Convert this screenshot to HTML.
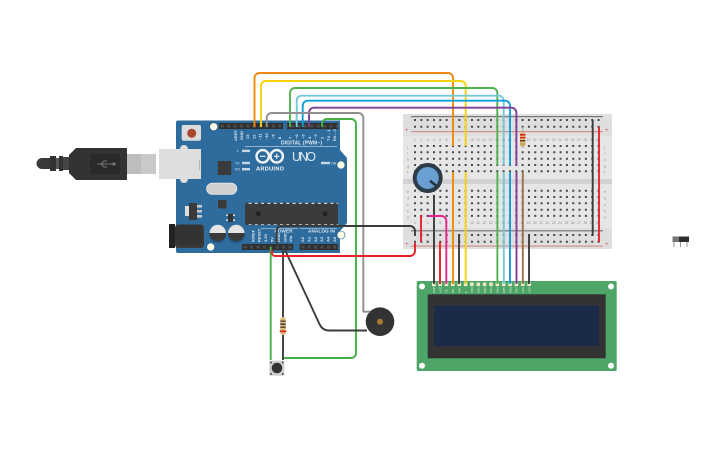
<!DOCTYPE html>
<html><head><meta charset="utf-8"><style>
html,body{margin:0;padding:0;background:#fff;width:725px;height:453px;overflow:hidden}
svg{display:block}
text{font-family:"Liberation Sans",sans-serif}
.w{fill:none;stroke-width:1.9;stroke-linecap:butt;stroke-linejoin:round}
.p{font-size:4px;font-weight:bold;fill:#dfe8ef}
.l{font-size:3.4px;fill:#8a8a8a}
.n{font-size:3.4px;fill:#8a8a8a;word-spacing:1.6px}
.s{font-size:3.4px;fill:#8a8a8a;word-spacing:3.49px}
.c{font-size:3px;fill:#e4efe6}
</style></head><body>
<svg width="725" height="453" viewBox="0 0 725 453" xmlns="http://www.w3.org/2000/svg">
<defs>
<pattern id="hd" x="219" y="123" width="6.4" height="6" patternUnits="userSpaceOnUse"><rect width="6.4" height="6" fill="#2f2f2f"/><rect x="1.6" y="1.6" width="3.2" height="3" fill="#4b4b4b"/></pattern>
<pattern id="hb" x="242" y="244" width="6.4" height="6" patternUnits="userSpaceOnUse"><rect width="6.4" height="6" fill="#2f2f2f"/><rect x="1.6" y="1.6" width="3.2" height="3" fill="#4b4b4b"/></pattern>
<pattern id="cp" x="247" y="202" width="6.3" height="24" patternUnits="userSpaceOnUse"><rect x="1.5" y="0.7" width="3" height="1.2" fill="#e8e8e8"/><rect x="1.5" y="22.3" width="3" height="1.2" fill="#e8e8e8"/></pattern>
</defs>

<!-- USB cable -->
<path d="M42 158h8v11h-8a5.500 5.500 0 0 1 0-11z" fill="#3a3a3a"/>
<rect x="50" y="156" width="6" height="15" fill="#333"/><rect x="56" y="158" width="3" height="11" fill="#555"/><rect x="59" y="156" width="4" height="15" fill="#333"/><rect x="63" y="157" width="6" height="13" fill="#444"/>
<path d="M69 155l7-7h51v32H76l-7-7z" fill="#333"/>
<rect x="90" y="154" width="30" height="20" fill="#2a2a2a"/>
<path d="M97 164h18M101 164l3-3h3M101 164l3 3h3" stroke="#777" stroke-width="1" fill="none"/><circle cx="114" cy="164" r="1.600" fill="#777"/>
<rect x="127" y="154" width="29" height="20" fill="#c9c9c9"/><rect x="127" y="154" width="14" height="20" fill="#bdbdbd"/>

<!-- Arduino -->
<path d="M178 120.500H340V150l7 8v65l-7 8v22H178a2 2 0 0 1-2-2V122.500a2 2 0 0 1 2-2z" fill="#2e6c9e"/>
<rect x="159" y="149" width="42" height="30" fill="#dedede"/>
<circle cx="184" cy="149" r="4" fill="#dedede"/><circle cx="184" cy="179" r="4" fill="#dedede"/>
<rect x="199" y="160" width="0.800" height="10" fill="#aaa"/>
<rect x="181.700" y="125" width="19.300" height="15.700" rx="2" fill="#dcdcdc"/><circle cx="191.700" cy="133.300" r="4.500" fill="#a8492f"/>
<g fill="#fdfde8" stroke="#27577f" stroke-width=".6"><circle cx="213.700" cy="126.700" r="4"/><circle cx="341" cy="165" r="4"/><circle cx="341" cy="235" r="4"/><circle cx="210.700" cy="247" r="4"/></g>
<rect x="219" y="123" width="64" height="6" fill="url(#hd)"/><rect x="287" y="123" width="51" height="6" fill="url(#hd)"/>
<rect x="242" y="244" width="51.200" height="6" fill="url(#hb)"/><rect x="299.600" y="244" width="38.400" height="6" fill="url(#hb)"/>
<g class="p">
<text transform="translate(237,141) rotate(-90)">AREF</text><text transform="translate(243,140) rotate(-90)">GND</text>
<text transform="translate(249,139) rotate(-90)">13</text><text transform="translate(255.500,139) rotate(-90)">12</text><text transform="translate(261.500,140) rotate(-90)">~11</text><text transform="translate(268,140) rotate(-90)">~10</text><text transform="translate(274.500,139) rotate(-90)">~9</text><text transform="translate(281,139) rotate(-90)">8</text>
<text transform="translate(291.500,139) rotate(-90)">7</text><text transform="translate(298,139) rotate(-90)">~6</text><text transform="translate(304.500,139) rotate(-90)">~5</text><text transform="translate(311,139) rotate(-90)">4</text><text transform="translate(317,139) rotate(-90)">~3</text><text transform="translate(323.500,139) rotate(-90)">2</text><text transform="translate(330,141) rotate(-90)">TX→1</text><text transform="translate(336,141) rotate(-90)">RX←0</text>
<text transform="translate(254.500,242) rotate(-90)">IOREF</text><text transform="translate(260.500,242) rotate(-90)">RESET</text><text transform="translate(267,242) rotate(-90)">3.3V</text><text transform="translate(273.500,242) rotate(-90)">5V</text><text transform="translate(280,242) rotate(-90)">GND</text><text transform="translate(286.500,242) rotate(-90)">GND</text><text transform="translate(292,242) rotate(-90)">Vin</text>
<text transform="translate(304,242) rotate(-90)">A0</text><text transform="translate(310.500,242) rotate(-90)">A1</text><text transform="translate(317,242) rotate(-90)">A2</text><text transform="translate(323,242) rotate(-90)">A3</text><text transform="translate(329.500,242) rotate(-90)">A4</text><text transform="translate(336,242) rotate(-90)">A5</text>
</g>
<text x="281" y="144.500" font-size="5" font-weight="bold" fill="#dfe8ef" textLength="41">DIGITAL (PWM~)</text>
<rect x="245" y="146" width="92" height=".8" fill="#a9c3d8"/>
<text x="274.500" y="232.500" font-size="4.800" font-weight="bold" fill="#dfe8ef">POWER</text>
<text x="308" y="232.500" font-size="4.800" font-weight="bold" fill="#dfe8ef">ANALOG IN</text>
<rect x="261" y="228" width="37" height=".7" fill="#a9c3d8"/><rect x="300" y="228" width="37" height=".7" fill="#a9c3d8"/>
<circle cx="262.700" cy="156.300" r="6.200" fill="none" stroke="#f0f4f7" stroke-width="2.400"/><circle cx="276.700" cy="156.300" r="6.200" fill="none" stroke="#f0f4f7" stroke-width="2.400"/>
<path d="M260 156.300h5.400M274 156.300h5.400M276.700 153.600v5.400" stroke="#f0f4f7" stroke-width="1.100"/>
<text x="256" y="170.300" font-size="5.600" font-weight="bold" fill="#f0f4f7" textLength="28">ARDUINO</text>
<text x="292" y="161" font-size="12.500" fill="#dbe6ef" textLength="24">UNO</text>
<g fill="#c9d6e0"><rect x="242" y="149.700" width="8" height="2.400"/><rect x="242" y="161.800" width="8" height="2.400"/><rect x="242" y="168" width="8" height="2.400"/><rect x="321" y="161.800" width="9" height="2.400"/></g>
<g style="font-size:3.600px" fill="#dfe8ef"><text x="237" y="152.200">L</text><text x="235" y="164.300">TX</text><text x="235" y="170.500">RX</text><text x="331" y="164.300">ON</text></g>
<rect x="217.700" y="161" width="13.500" height="14" fill="#3a3a3a"/>
<rect x="206.700" y="183.300" width="30" height="11" rx="5.500" fill="#cfcfcf" stroke="#e4e4e4"/>
<rect x="218" y="200" width="8.500" height="8.500" rx="1" fill="#3a3a3a"/>
<rect x="185" y="206" width="4" height="10" fill="#ddd"/><rect x="189" y="203" width="8" height="17" fill="#3a3a3a"/>
<g fill="#c8c8c8"><rect x="197" y="205" width="5" height="2.600"/><rect x="197" y="210" width="5" height="2.600"/><rect x="197" y="215" width="5" height="2.600"/></g>
<rect x="228" y="214" width="5" height="8" fill="#333"/><g fill="#ddd"><rect x="226" y="214.500" width="2" height="1.500"/><rect x="226" y="219.500" width="2" height="1.500"/><rect x="233" y="214.500" width="2" height="1.500"/><rect x="233" y="219.500" width="2" height="1.500"/></g>
<rect x="245" y="202.700" width="93" height="22.300" fill="#3a3b3d"/><rect x="245" y="202.700" width="93" height="22.300" fill="url(#cp)"/>
<circle cx="258.300" cy="213.700" r="2.500" fill="#222"/><circle cx="325" cy="213.700" r="2.500" fill="#222"/>
<path d="M169 224h6v24h-6z" fill="#222"/><rect x="175" y="224.500" width="29" height="23.500" rx="3" fill="#3a3a3a"/><rect x="175" y="224.500" width="27" height="21" rx="5" fill="#333"/>
<g><circle cx="217.700" cy="234.500" r="8.500" fill="#24507a"/><path d="M209.500 233a8.200 8.200 0 0 1 16.400 0z" fill="#e4e4e4"/><path d="M209.500 233a8.200 8.200 0 0 0 16.400 0z" fill="#3a3a3a"/>
<circle cx="236.300" cy="234.500" r="8.500" fill="#24507a"/><path d="M228.100 233a8.200 8.200 0 0 1 16.400 0z" fill="#e4e4e4"/><path d="M228.100 233a8.200 8.200 0 0 0 16.400 0z" fill="#3a3a3a"/></g>

<!-- Breadboard -->
<rect x="403" y="114" width="209" height="135" fill="#dfdfdf"/>
<rect x="403" y="136" width="209" height="92" fill="#e6e6e6"/>
<rect x="403" y="179" width="209" height="5" fill="#d2d2d2"/>
<rect x="411" y="116" width="192" height="1.200" fill="#777"/><rect x="411" y="131" width="192" height="1.200" fill="#cf9090"/>
<rect x="411" y="230" width="192" height="1.500" fill="#8c8c8c"/><rect x="411" y="245.500" width="192" height="1.200" fill="#cf9090"/>
<path d="M414 120H600M414 126.700H600M414 235H600M414 241.700H600M414 146H600M414 152.300H600M414 158.700H600M414 165H600M414 171.300H600M414 190.700H600M414 197H600M414 203.300H600M414 209.700H600M414 215.900H600" stroke="#484848" stroke-width="2" stroke-dasharray="2 4.330" fill="none"/>
<g class="l">
<text x="406" y="124">-</text><text x="605" y="124">-</text><text x="405" y="132" style="fill:#c55;font-size:6px">+</text><text x="605" y="132" style="fill:#c55;font-size:6px">+</text>
<text x="405" y="238">-</text><text x="605" y="238">-</text><text x="405" y="246" style="fill:#c55;font-size:6px">+</text><text x="605" y="246" style="fill:#c55;font-size:6px">+</text>
<text x="407" y="148">j</text><text x="407" y="154.500">i</text><text x="407" y="161">h</text><text x="407" y="167.500">g</text><text x="407" y="173.500">f</text>
<text x="407" y="193">e</text><text x="407" y="199.500">d</text><text x="407" y="206">c</text><text x="407" y="212.500">b</text><text x="407" y="218.500">a</text>
<text x="604" y="148">j</text><text x="604" y="154.500">i</text><text x="604" y="161">h</text><text x="604" y="167.500">g</text><text x="604" y="173.500">f</text>
<text x="604" y="193">e</text><text x="604" y="199.500">d</text><text x="604" y="206">c</text><text x="604" y="212.500">b</text><text x="604" y="218.500">a</text>
</g>
<text class="s" x="414" y="141">1 2 3 4 5 6 7 8 9</text><text class="n" x="470" y="141">10 11 12 13 14 15 16 17 18 19 20 21 22 23 24 25 26 27 28 29 30</text>
<text class="s" x="414" y="224">1 2 3 4 5 6 7 8 9</text><text class="n" x="470" y="224">10 11 12 13 14 15 16 17 18 19 20 21 22 23 24 25 26 27 28 29 30</text>

<!-- LCD -->
<rect x="416.700" y="281" width="200" height="90" rx="1.500" fill="#4da568"/>
<rect x="427.700" y="294.300" width="178" height="64" fill="#333"/>
<rect x="434" y="305.700" width="165" height="40.300" fill="#1c2a49"/>
<g fill="#fff"><circle cx="422" cy="286.500" r="3"/><circle cx="611" cy="286.500" r="3"/><circle cx="422" cy="365.700" r="3"/><circle cx="611" cy="365.700" r="3"/></g>
<g fill="#f2e9c8"><rect x="432" y="282.500" width="3.600" height="3.600"/><rect x="438.300" y="282.500" width="3.600" height="3.600"/><rect x="444.700" y="282.500" width="3.600" height="3.600"/><rect x="451" y="282.500" width="3.600" height="3.600"/><rect x="457.400" y="282.500" width="3.600" height="3.600"/><rect x="463.800" y="282.500" width="3.600" height="3.600"/><rect x="470.100" y="282.500" width="3.600" height="3.600"/><rect x="476.500" y="282.500" width="3.600" height="3.600"/><rect x="482.800" y="282.500" width="3.600" height="3.600"/><rect x="489.200" y="282.500" width="3.600" height="3.600"/><rect x="495.600" y="282.500" width="3.600" height="3.600"/><rect x="501.900" y="282.500" width="3.600" height="3.600"/><rect x="508.300" y="282.500" width="3.600" height="3.600"/><rect x="514.600" y="282.500" width="3.600" height="3.600"/><rect x="521" y="282.500" width="3.600" height="3.600"/><rect x="527.300" y="282.500" width="3.600" height="3.600"/></g>
<g class="c"><text transform="translate(435,293) rotate(-90)">GND</text><text transform="translate(441.300,293) rotate(-90)">VCC</text><text transform="translate(447.700,293) rotate(-90)">V0</text><text transform="translate(454,293) rotate(-90)">RS</text><text transform="translate(460.400,293) rotate(-90)">RW</text><text transform="translate(466.800,293) rotate(-90)">E</text><text transform="translate(473.100,293) rotate(-90)">DB0</text><text transform="translate(479.500,293) rotate(-90)">DB1</text><text transform="translate(485.800,293) rotate(-90)">DB2</text><text transform="translate(492.200,293) rotate(-90)">DB3</text><text transform="translate(498.600,293) rotate(-90)">DB4</text><text transform="translate(504.900,293) rotate(-90)">DB5</text><text transform="translate(511.300,293) rotate(-90)">DB6</text><text transform="translate(517.600,293) rotate(-90)">DB7</text><text transform="translate(524,293) rotate(-90)">LED</text><text transform="translate(530.300,293) rotate(-90)">LED</text></g>

<!-- Breadboard resistor -->
<path d="M522.700 127v21" stroke="#aaa" stroke-width="1.200"/>
<rect x="520" y="132" width="5.400" height="15" rx="2.500" fill="#d9b878"/>
<rect x="520" y="134" width="5.400" height="1.600" fill="#d6221c"/><rect x="520" y="137" width="5.400" height="1.400" fill="#d6221c"/><rect x="520" y="140" width="5.400" height="1.400" fill="#5b3a1e"/><rect x="520" y="143.500" width="5.400" height="1" fill="#b59a45"/>

<!-- Buzzer -->
<circle cx="380" cy="321.700" r="14.300" fill="#333"/><circle cx="380" cy="321.700" r="3" fill="#a67c2d"/><circle cx="380" cy="330" r="2.500" fill="none" stroke="#444" stroke-width=".6"/>

<!-- Button -->
<rect x="269.300" y="360.700" width="15" height="15" fill="#cfcfcf"/><circle cx="277" cy="368" r="5.300" fill="#333"/>
<g fill="#555"><circle cx="271" cy="362.500" r="1"/><circle cx="282.700" cy="362.500" r="1"/><circle cx="271" cy="374" r="1"/><circle cx="282.700" cy="374" r="1"/></g>

<!-- Switch -->
<g stroke="#999" stroke-width="1"><path d="M674 241v6M680.500 241v6M687 241v6"/></g>
<rect x="672.500" y="236.500" width="16.500" height="5.500" fill="#777"/><rect x="679" y="236.500" width="10" height="5.500" fill="#2e2e2e"/>

<!-- Wires -->
<g class="w">
<path d="M254.500 127V78a5 5 0 0 1 5-5H448a5 5 0 0 1 5 5v68M453 172V284" stroke="#f08a0c"/>
<path d="M261 127V86a5 5 0 0 1 5-5h194.700a5 5 0 0 1 5 5v60M465.700 172V284" stroke="#f5d20e"/>
<path d="M290 127V93a5 5 0 0 1 5-5h197.300a5 5 0 0 1 5 5v72.500M497.400 172V284" stroke="#4fb24f"/>
<path d="M296.700 127V100.700a5 5 0 0 1 5-5H498.700a5 5 0 0 1 5 5V165.500M503.800 172V284" stroke="#72c9d8"/>
<path d="M302.700 127V105.700a5 5 0 0 1 5-5H505a5 5 0 0 1 5 5V165.500M510 172V284" stroke="#109ed8"/>
<path d="M309 127V112.700a5 5 0 0 1 5-5H511.400a5 5 0 0 1 5 5V165.500M516.500 172V284" stroke="#7f3f98"/>
<path d="M522.800 172V284" stroke="#9b7048"/>
<path d="M266.700 127V118a5 5 0 0 1 5-5H358.300a5 5 0 0 1 5 5V311.700H370" stroke="#8f8f8f"/>
<path d="M322 127V124a5 5 0 0 1 5-5H351a5 5 0 0 1 5 5V353a5 5 0 0 1-5 5H283" stroke="#44b045"/>
<path d="M270.700 247V360" stroke="#44b045"/>
<path d="M283 248V317M283 335V360" stroke="#3c3c3c"/>
<path d="M285 250L319 323q3 7.500 10 7.500H367" stroke="#3c3c3c"/>
<path d="M276.700 247V230a4 4 0 0 1 4-4H410a5 5 0 0 1 5 5V235" stroke="#3c3c3c"/>
<path d="M272 250V253a3 3 0 0 0 3 3H410a5 5 0 0 0 5-5V243" stroke="#ea2027"/>
<path d="M421 215V242" stroke="#ea2027"/>
<path d="M434 195V284M459 234V284M529 234V284" stroke="#3c3c3c"/>
<path d="M440 242V284" stroke="#ea2027"/>
<path d="M446.300 284V221a5 5 0 0 0-5-5H428" stroke="#e5258d"/>
<path d="M592.700 120V236" stroke="#3c3c3c"/>
<path d="M599 127V242" stroke="#e0262b"/>
</g>

<!-- Lower resistor -->
<rect x="280.300" y="317" width="5.400" height="18" rx="2.500" fill="#d9b878"/>
<rect x="280.300" y="320.500" width="5.400" height="1.300" fill="#5b3a1e"/><rect x="280.300" y="323.500" width="5.400" height="1.300" fill="#2a2a2a"/><rect x="280.300" y="326.500" width="5.400" height="1.400" fill="#5b3a1e"/><rect x="279.700" y="330.500" width="6.600" height="1.600" fill="#d6221c"/>

<!-- Potentiometer -->
<circle cx="427.700" cy="178" r="15" fill="#2e3c49"/><circle cx="427.700" cy="178" r="11" fill="#6a9fd3"/>
<path d="M430 180.700L436.500 186" stroke="#263038" stroke-width="2.600"/>
</svg>
</body></html>
